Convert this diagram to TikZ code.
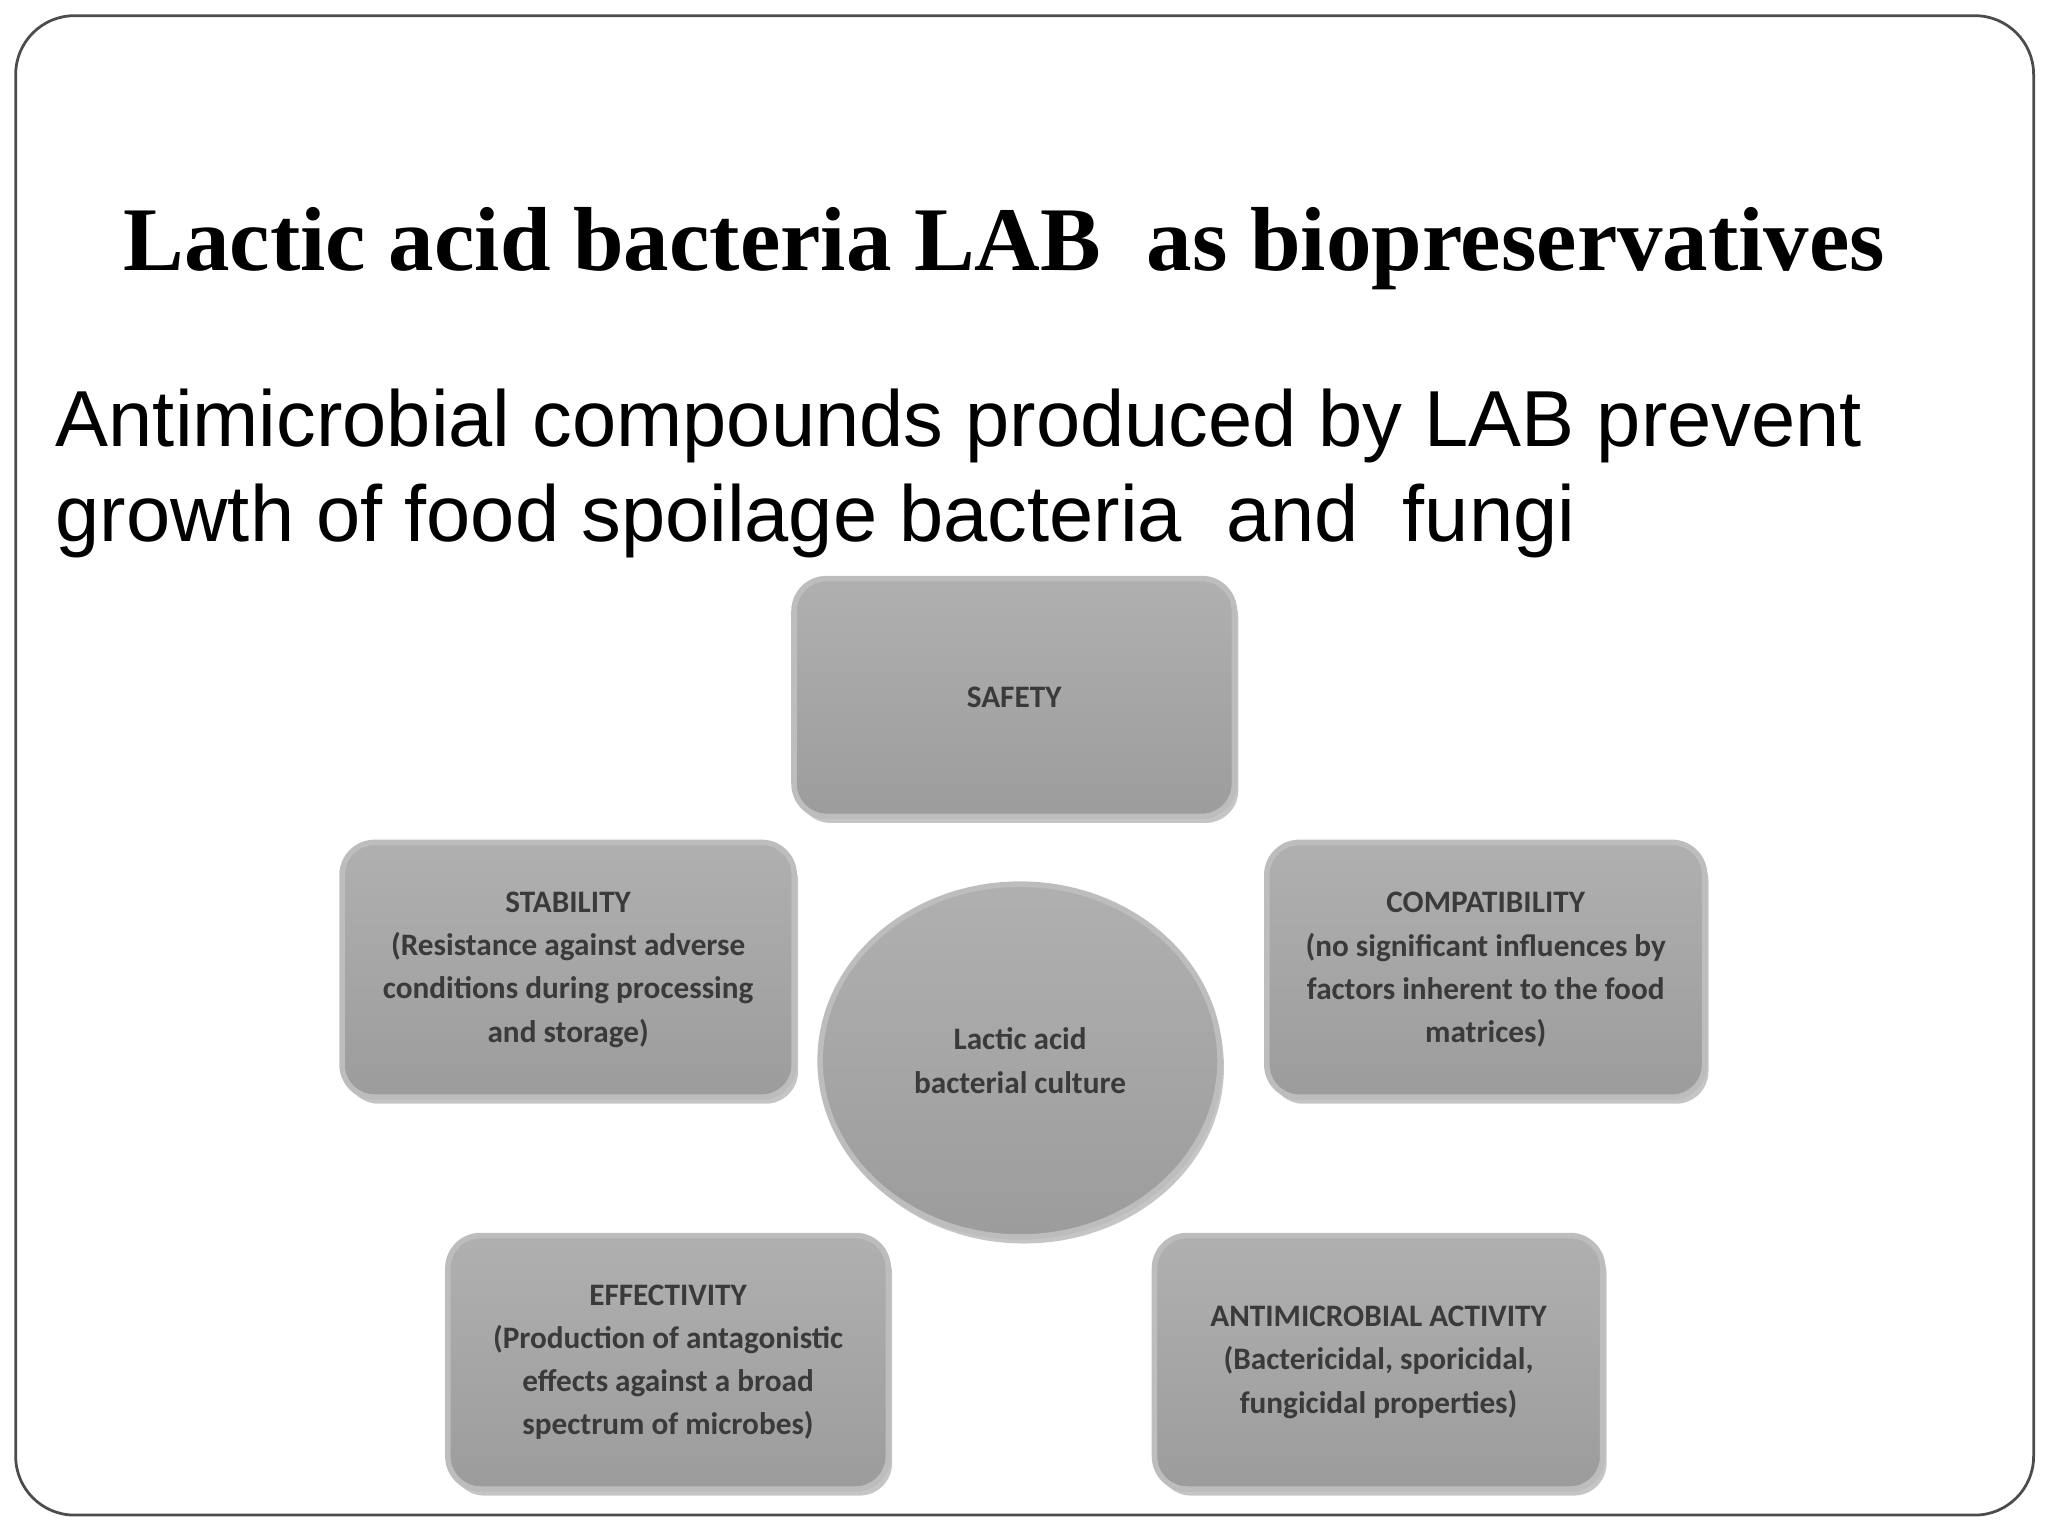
\documentclass[tikz,border=0pt]{standalone}
\usepackage{fontspec}
\setmainfont{Liberation Serif}
\newfontfamily\sansf{Liberation Sans}
\newfontfamily\boxf{Carlito}
\usetikzlibrary{shadows,shapes.geometric}
\definecolor{boxgray}{HTML}{9C9C9C}
\definecolor{boxedge}{HTML}{BDBDBD}
\definecolor{boxtext}{HTML}{3A3A3A}
\tikzset{
  featbox/.style={draw=boxedge, line width=1.2pt, rounded corners=0.25cm, top color=boxgray!80, bottom color=boxgray, middle color=boxgray!90,
    drop shadow={shadow xshift=0.03cm, shadow yshift=-0.05cm, fill=black!45},
    font=\boxf\bfseries\fontsize{6.8pt}{9.4pt}\selectfont, text=boxtext, align=center, inner sep=0pt},
}
\begin{document}
\begin{tikzpicture}[x=0.01cm,y=-0.01cm]
\useasboundingbox (0,0) rectangle (1568,1176);
\draw[black!70, line width=0.6pt, rounded corners=0.45cm] (12,12) rectangle (1557,1160);
\node[font=\bfseries\fontsize{19.8pt}{23pt}\selectfont] (title) at (769,190) {Lactic acid bacteria LAB\ \ as biopreservatives};
\node[font=\sansf\fontsize{17.3pt}{20.7pt}\selectfont, anchor=north west, align=left, inner sep=0pt] (sub) at (42,297)
  {Antimicrobial compounds produced by LAB prevent\\growth of food spoilage bacteria\ \ and\ \ fungi};
\node[featbox, minimum width=3.37cm, minimum height=1.82cm] (safety) at (776.5,534) {SAFETY};
\node[featbox, minimum width=3.46cm, minimum height=1.95cm] (stab) at (435,742.5) {STABILITY\\(Resistance against adverse\\conditions during processing\\and storage)};
\node[featbox, minimum width=3.35cm, minimum height=1.95cm] (comp) at (1137.5,742.5) {COMPATIBILITY\\(no significant influences by\\factors inherent to the food\\matrices)};
\node[featbox, minimum width=3.37cm, minimum height=1.94cm] (eff) at (511.5,1043) {EFFECTIVITY\\(Production of antagonistic\\effects against a broad\\spectrum of microbes)};
\node[featbox, minimum width=3.43cm, minimum height=1.94cm] (anti) at (1055.5,1043) {ANTIMICROBIAL ACTIVITY\\(Bactericidal, sporicidal,\\fungicidal properties)};
\node[featbox, ellipse, minimum width=3.06cm, minimum height=2.7cm] (lab) at (781,812) {Lactic acid\\bacterial culture};
\end{tikzpicture}
\end{document}
